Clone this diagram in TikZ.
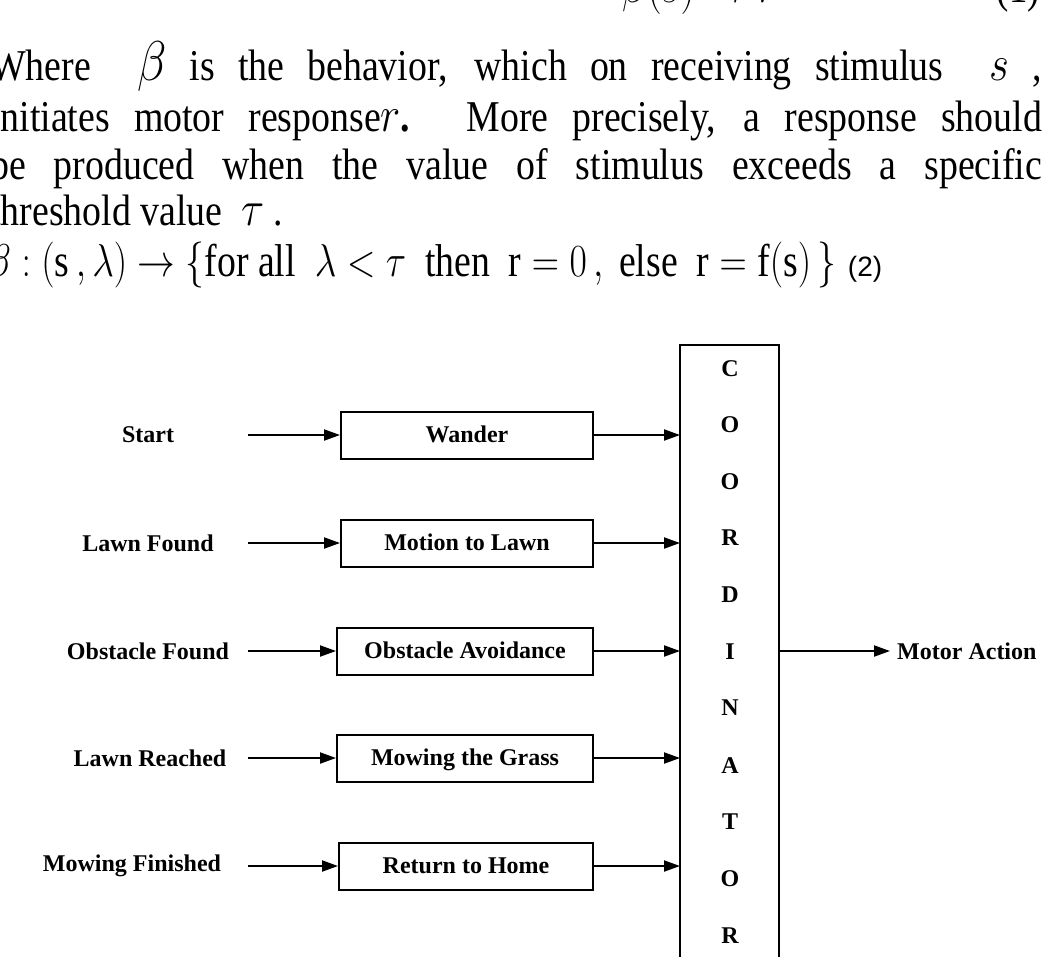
\RequirePackage{fix-cm}
\documentclass[tikz,border=0pt]{standalone}
\usepackage{fontspec}
\setmainfont{Liberation Serif}
\newfontfamily\sansf{Liberation Sans}
\usetikzlibrary{arrows.meta}
\begin{document}
\begin{tikzpicture}[x=1pt,y=-1pt,
  bx/.style={draw,line width=2pt,minimum height=47pt,anchor=west,font=\fontsize{24}{28}\selectfont\bfseries,inner sep=0,text height=17pt,text depth=3pt},
  lab/.style={font=\fontsize{24}{28}\selectfont\bfseries},
  arr/.style={line width=2pt,-{Triangle[length=16pt,width=11pt]}},
  para/.style={anchor=base west,inner sep=0,font=\fontsize{44}{48}\selectfont}]
\useasboundingbox (0,0) rectangle (1056,956);
\clip (0,0) rectangle (1056,956);
% text
\node[anchor=base,inner sep=0,font=\fontsize{48}{48}\selectfont] (eq1) at (700,2) {\scalebox{0.85}[1]{$\beta(s) \to r$}};
\node[anchor=base east,inner sep=0,font=\fontsize{46}{48}\selectfont] (n1) at (1040,2) {\scalebox{0.8}[1]{(1)}};
\node[para] (l1) at (-10,80) {\scalebox{0.86}[1]{\makebox[1223pt][s]{Where \ {\fontsize{56}{56}\selectfont$\beta$} is the behavior, which on receiving stimulus \ {\fontsize{50}{50}\selectfont$s$} ,}}};
\node[para] (l2) at (-10,131) {\scalebox{0.86}[1]{\makebox[1223pt][s]{initiates motor response{\fontsize{50}{50}\selectfont$r$}\textbf{.} More precisely, a response should}}};
\node[para] (l3) at (-10,179) {\scalebox{0.86}[1]{\makebox[1223pt][s]{be produced when the value of stimulus exceeds a specific}}};
\node[para] (l4) at (-10,225) {\scalebox{0.86}[1]{threshold value \ {\fontsize{50}{50}\selectfont$\tau$} .}};
\node[para,font=\fontsize{46}{48}\selectfont] (l5) at (-12,276) {\scalebox{0.82}[1]{$\beta:(\mathrm{s}\,,\lambda)\to\{\mathrm{for\ all}\ \ \lambda<\tau\ \ \mathrm{then}\ \ \mathrm{r}=0\,,\ \mathrm{else}\ \ \mathrm{r}=\mathrm{f(s)}\,\}$} {\sansf\fontsize{28}{28}\selectfont(2)}};
% coordinator
\draw[line width=2pt] (680,980) -- (680,345) -- (779,345) -- (779,980);
\foreach \ch/\yy in {C/369,O/425,O/482,R/538,D/595,I/652,N/708,A/766,T/822,O/879,R/936}
  \node[lab] at (730,\yy) {\ch};
% rows
\foreach \nm/\inp/\beh/\y/\lx/\bx/\bw in {
  a/Start/Wander/435/148/340/252,
  b/Lawn Found/Motion to Lawn/543/148/340/252,
  c/Obstacle Found/Obstacle Avoidance/651/148/336/256,
  d/Lawn Reached/Mowing the Grass/758/150/336/256,
  e/Mowing Finished/Return to Home/866/132/338/254}{
  \node[lab] (i\nm) at (\lx,\y) {\inp};
  \node[bx,minimum width=\bw pt] (b\nm) at (\bx,\y) {\beh};
  \coordinate (s\nm) at (248,\y);
  \coordinate (t\nm) at (680,\y);
  \draw[arr] (s\nm) -- (b\nm.west);
  \draw[arr] (b\nm.east) -- (t\nm);
}
\coordinate (co) at (779,651);
\node[lab,anchor=west,inner sep=0] (out) at (897,651) {Motor Action};
\draw[arr] (co) -- (890,651);
\end{tikzpicture}
\end{document}
